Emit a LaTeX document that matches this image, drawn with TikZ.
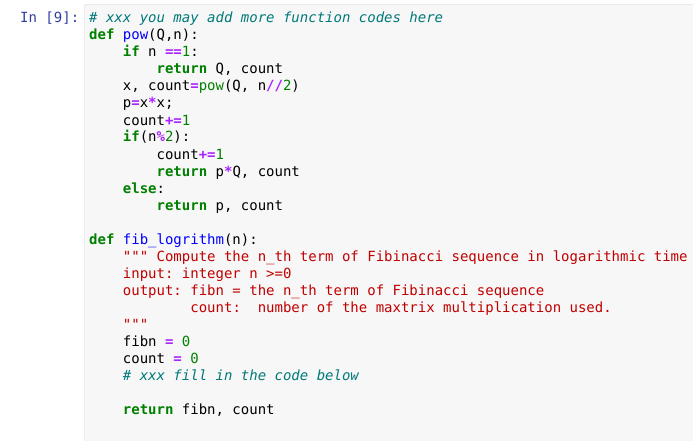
\documentclass[tikz,border=0pt]{standalone}
\usepackage{fontspec}
\setmonofont{DejaVu Sans Mono}
\definecolor{kwc}{HTML}{008000}
\definecolor{fnc}{HTML}{0000FF}
\definecolor{opc}{HTML}{AA22FF}
\definecolor{cmc}{HTML}{007979}
\definecolor{stc}{HTML}{C00000}
\definecolor{promptc}{HTML}{303F9F}
\newcommand\kw[1]{\textcolor{kwc}{\bfseries #1}}
\newcommand\fn[1]{\textcolor{fnc}{#1}}
\newcommand\op[1]{\textcolor{opc}{\bfseries #1}}
\newcommand\nm[1]{\textcolor{kwc}{#1}}
\newcommand\cm[1]{\textcolor{cmc}{\itshape #1}}
\newcommand\st[1]{\textcolor{stc}{#1}}
\begin{document}
\begin{tikzpicture}[x=1pt,y=-1pt,
  code/.style={anchor=base west,inner sep=0pt,font=\fontsize{14}{17}\ttfamily}]
\useasboundingbox (0,0) rectangle (693,441);
\clip (0,0) rectangle (693,441);
\fill[white] (0,0) rectangle (693,441);
\draw[draw=black!19,fill=black!3,rounded corners=2pt] (84.5,4.5) rectangle (720,470);
\node[code,text=promptc] (p) at (20,23) {In~[9]:};
\def\cw{8.43}
\foreach \c/\r/\t [count=\i] in {
 0/1/{\cm{\#~xxx~you~may~add~more~function~codes~here}},
 0/2/{\kw{def}~\fn{pow}(Q,n):},
 4/3/{\kw{if}~n~\op{==}\nm{1}:},
 8/4/{\kw{return}~Q,~count},
 4/5/{x,~count\op{=}\nm{pow}(Q,~n\op{//}\nm{2})},
 4/6/{p\op{=}x\op{*}x;},
 4/7/{count\op{+=}\nm{1}},
 4/8/{\kw{if}(n\op{\%}\nm{2}):},
 8/9/{count\op{+=}\nm{1}},
 8/10/{\kw{return}~p\op{*}Q,~count},
 4/11/{\kw{else}:},
 8/12/{\kw{return}~p,~count},
 0/14/{\kw{def}~\fn{fib\_logrithm}(n):},
 4/15/{\st{"""~Compute~the~n\_th~term~of~Fibinacci~sequence~in~logarithmic~time}},
 4/16/{\st{input:~integer~n~>=0}},
 4/17/{\st{output:~fibn~=~the~n\_th~term~of~Fibinacci~sequence}},
 12/18/{\st{count:~~number~of~the~maxtrix~multiplication~used.}},
 4/19/{\st{"""}},
 4/20/{fibn~\op{=}~\nm{0}},
 4/21/{count~\op{=}~\nm{0}},
 4/22/{\cm{\#~xxx~fill~in~the~code~below}},
 4/24/{\kw{return}~fibn,~count}}
 \node[code] (l\i) at ({89+\cw*\c},{6+17*\r}) {\t};
\end{tikzpicture}
\end{document}
